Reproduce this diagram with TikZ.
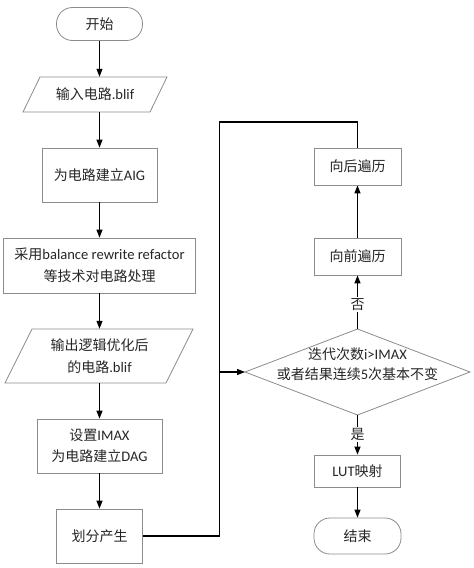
\documentclass[tikz,border=0pt]{standalone}
\usepackage{fontspec}
\setmainfont{Carlito}[Scale=1.04]
\newfontfamily\cjk{Noto Sans CJK SC}
\usetikzlibrary{arrows.meta}
\begin{document}
\begin{tikzpicture}[x=1pt,y=-1pt,
  boxline/.style={draw=black!45,line width=0.8pt},
  stepbox/.style={boxline,rectangle,inner sep=0pt,align=center,font=\fontsize{14}{21.5}\selectfont,text=black!85},
  termbox/.style={stepbox,rounded corners=16pt},
  txt/.style={inner sep=0pt,align=center,font=\fontsize{14}{21.5}\selectfont,text=black!85},
  conn/.style={line width=1.2pt,black},
  arr/.style={conn,-{Triangle[length=8pt,width=6pt]}},
  lbl/.style={fill=white,inner sep=1.5pt,font=\fontsize{14}{16}\selectfont,text=black!85}]
\useasboundingbox (0,0) rectangle (474,568);
\fill[white] (0,0) rectangle (474,568);
% main column
\node[termbox,minimum width=86pt,minimum height=33pt] (start) at (99.5,24) {\cjk 开始};
\draw[boxline] (40,77) -- (167,77) -- (150,112) -- (23,112) -- cycle;
\node[txt,minimum width=127pt,minimum height=35pt] (in) at (95,94.5) {{\cjk 输入电路}.blif};
\node[stepbox,minimum width=115pt,minimum height=54pt] (aig) at (99.5,175) {{\cjk 为电路建立}AIG};
\node[stepbox,minimum width=192pt,minimum height=55pt] (opt) at (99.5,265.5) {{\cjk 采用}balance rewrite refactor\\{\cjk 等技术对电路处理}};
\draw[boxline] (32,329) -- (193,329) -- (166,383) -- (5,383) -- cycle;
\node[txt,minimum width=161pt,minimum height=54pt] (out) at (99.5,356) {{\cjk 输出逻辑优化后}\\{\cjk 的电路}.blif};
\node[stepbox,minimum width=125pt,minimum height=54pt] (imax) at (99.5,446) {{\cjk 设置}IMAX\\{\cjk 为电路建立}DAG};
\node[stepbox,minimum width=86pt,minimum height=54pt] (part) at (99.5,536) {\cjk 划分产生};
% right column
\node[stepbox,minimum width=87pt,minimum height=37pt] (back) at (357.5,166.5) {\cjk 向后遍历};
\node[stepbox,minimum width=87pt,minimum height=37pt] (fwd) at (357.5,256.5) {\cjk 向前遍历};
\draw[boxline] (245,372) -- (357.5,329) -- (470,372) -- (357.5,415) -- cycle;
\node[txt,font=\fontsize{14}{20}\selectfont] (dia) at (357.5,364) {{\cjk 迭代次数}i>IMAX\\{\cjk 或者结果连续}5{\cjk 次基本不变}};
\coordinate (diaT) at (357.5,329);
\coordinate (diaB) at (357.5,415);
\coordinate (diaL) at (245,372);
\node[stepbox,minimum width=86pt,minimum height=32pt] (lut) at (357.5,471) {LUT{\cjk 映射}};
\node[termbox,minimum width=87pt,minimum height=36pt] (end) at (357.5,536) {\cjk 结束};
% connectors
\draw[arr] (start.south) -- (start.south |- in.north);
\draw[arr] (in.south -| aig.north) -- (aig.north);
\draw[arr] (aig.south) -- (aig.south |- opt.north);
\draw[arr] (opt.south) -- (opt.south |- out.north);
\draw[arr] (out.south) -- (out.south |- imax.north);
\draw[arr] (imax.south) -- (imax.south |- part.north);
\coordinate (j1) at (219.5,536);
\coordinate (j2) at (219.5,122);
\coordinate (j3) at (357.5,122);
\coordinate (j4) at (219.5,372);
\draw[conn] (part.east) -- (j1) -- (j2) -- (j3) -- (back.north);
\draw[arr] (j4) -- (diaL);
\draw[arr] (fwd.north) -- (back.south);
\draw[arr] (diaT) -- node[lbl,pos=0.45] {\cjk 否} (fwd.south);
\draw[arr] (diaB) -- node[lbl,pos=0.5] {\cjk 是} (lut.north);
\draw[arr] (lut.south) -- (end.north);
\end{tikzpicture}
\end{document}
